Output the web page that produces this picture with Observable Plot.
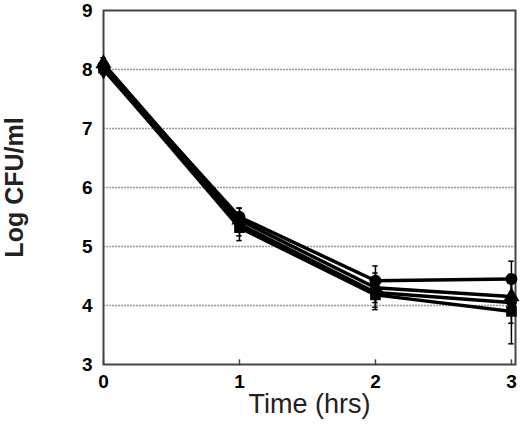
<!DOCTYPE html>
<html><head><meta charset="utf-8">
<script src="https://cdn.jsdelivr.net/npm/d3@7"></script>
<script src="https://cdn.jsdelivr.net/npm/@observablehq/plot@0.6"></script>
<style>body{margin:0;background:#fff;}</style>
</head><body><div id="chart"></div>
<script>
const times = [0, 1, 2, 3];
const seriesNames = ["A", "B", "C", "D"];
const seriesSymbols = ["circle", "triangle", "diamond", "square"];
const valuesA = [8.05, 5.50, 4.42, 4.45];
const valuesB = [8.10, 5.45, 4.30, 4.15];
const valuesC = [8.00, 5.38, 4.22, 4.05];
const valuesD = [8.02, 5.32, 4.18, 3.90];
const errA = [0.08, 0.15, 0.25, 0.30];
const errB = [0.10, 0.20, 0.25, 0.25];
const errC = [0.08, 0.20, 0.25, 0.35];
const errD = [0.10, 0.22, 0.25, 0.55];
const yTicks = [3, 4, 5, 6, 7, 8, 9];
const xTicks = [0, 1, 2, 3];

const allVals = [valuesA, valuesB, valuesC, valuesD];
const allErr = [errA, errB, errC, errD];
const data = [];
seriesNames.forEach((s, i) => times.forEach((t, j) => data.push({
  series: s, t, y: allVals[i][j],
  lo: allVals[i][j] - allErr[i][j], hi: allVals[i][j] + allErr[i][j]
})));
const capHalf = 0.02;

const font = "Liberation Sans, Arial, sans-serif";
const chart = Plot.plot({
  width: 520, height: 428,
  marginLeft: 103, marginRight: 5, marginTop: 10, marginBottom: 64,
  style: {fontFamily: font, background: "#fff"},
  x: {type: "linear", domain: [0, 3.03], label: null},
  y: {type: "linear", domain: [3, 9], label: null},
  symbol: {domain: seriesNames, range: seriesSymbols},
  marks: [
    Plot.ruleY([4, 5, 6, 7, 8], {stroke: "#999", strokeWidth: 1.5, strokeDasharray: "2,1"}),
    Plot.ruleX(xTicks, {y1: 3, y2: 3.08, stroke: "#444", strokeWidth: 1.5}),
    Plot.frame({stroke: "#444", strokeWidth: 2}),
    Plot.axisX({ticks: xTicks, tickSize: 0, tickPadding: 10, fontSize: 19, fontWeight: "bold", tickFormat: d3.format("d")}),
    Plot.axisY({ticks: yTicks, tickSize: 0, tickPadding: 11, fontSize: 19, fontWeight: "bold", tickFormat: d3.format("d")}),
    Plot.ruleX(data, {x: "t", y1: "lo", y2: "hi", stroke: "#000", strokeWidth: 1.5}),
    Plot.ruleY(data, {y: "lo", x1: d => d.t - capHalf, x2: d => d.t + capHalf, stroke: "#000", strokeWidth: 1.5}),
    Plot.ruleY(data, {y: "hi", x1: d => d.t - capHalf, x2: d => d.t + capHalf, stroke: "#000", strokeWidth: 1.5}),
    Plot.line(data, {x: "t", y: "y", z: "series", stroke: "#000", strokeWidth: 3.5}),
    Plot.dot(data, {x: "t", y: "y", symbol: "series", fill: "#000", r: 6}),
    Plot.text(["Log CFU/ml"], {frameAnchor: "left", textAnchor: "middle", lineAnchor: "middle", dx: -89, rotate: -90, fontSize: 25, fontWeight: "bold", fill: "#222"}),
    Plot.text(["Time (hrs)"], {frameAnchor: "bottom", textAnchor: "middle", lineAnchor: "middle", dy: 40, fontSize: 27, fill: "#222"})
  ]
});
document.getElementById("chart").append(chart);
</script></body></html>
